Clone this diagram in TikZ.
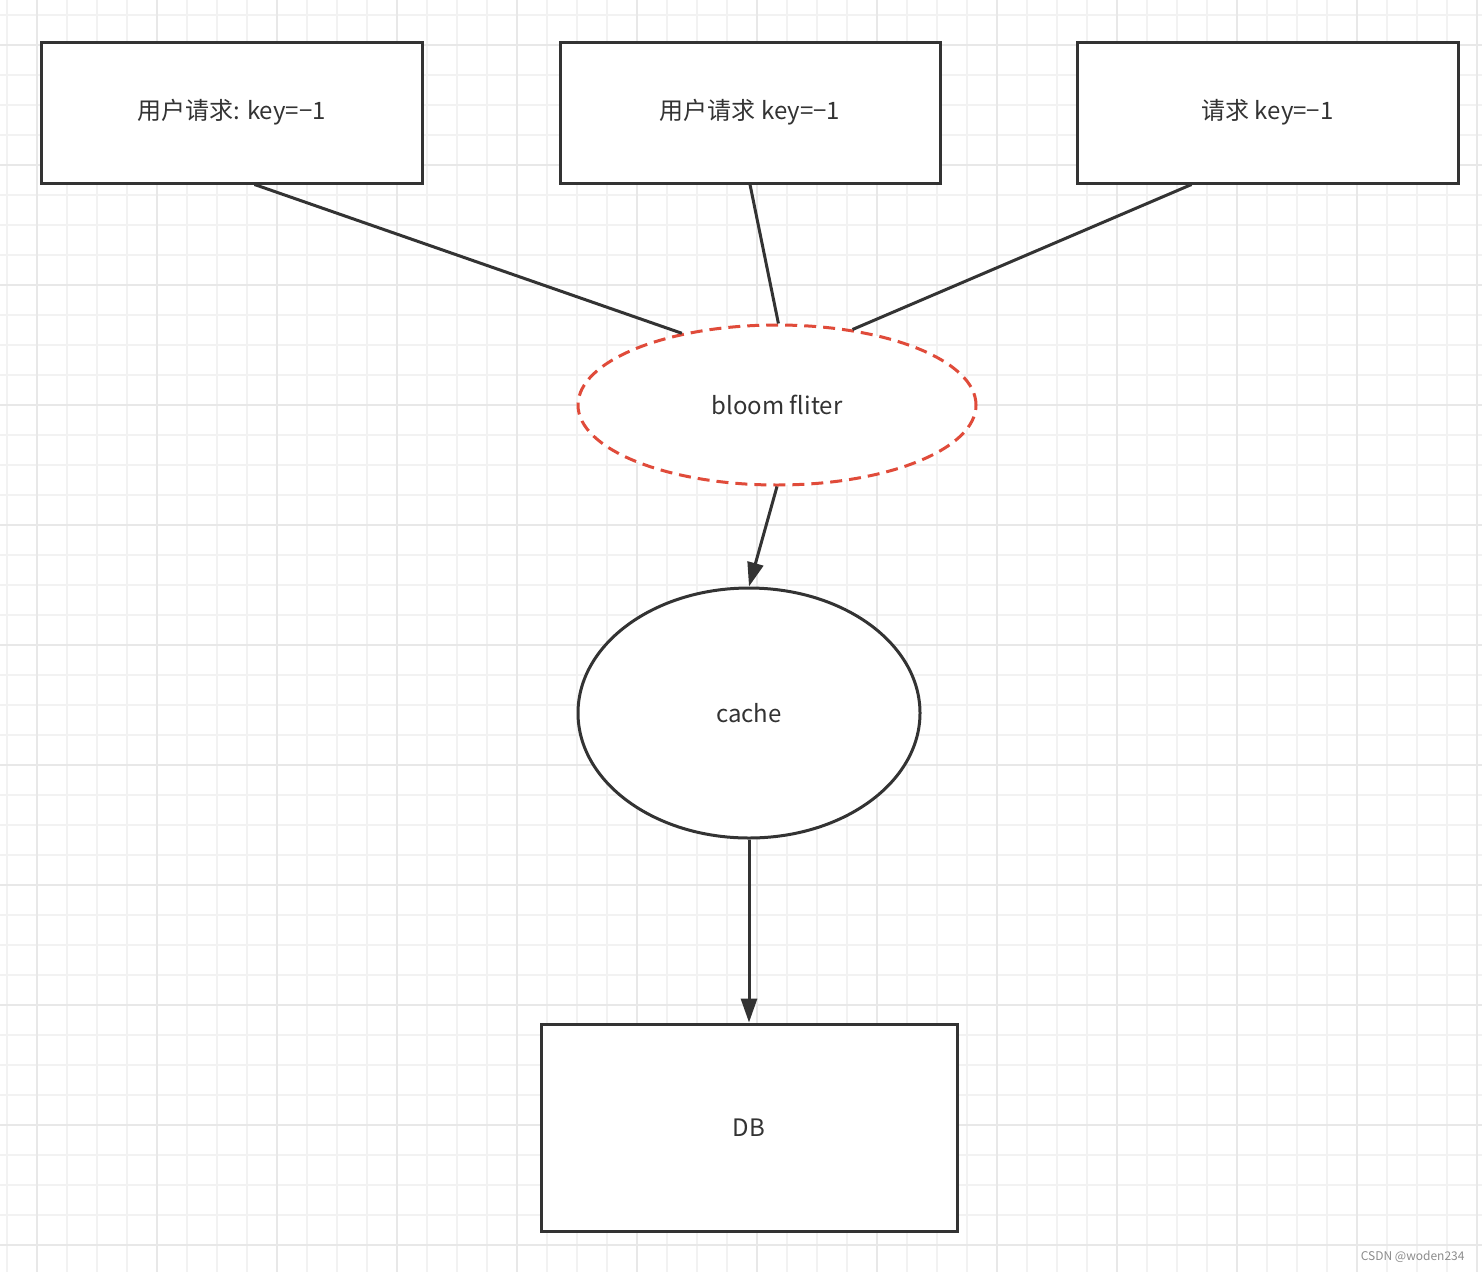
\documentclass[tikz,border=0pt]{standalone}
\usepackage{fontspec}
\setmainfont{Noto Sans CJK SC}
\usetikzlibrary{arrows.meta,shapes.geometric}
\definecolor{ink}{HTML}{333333}
\definecolor{bred}{HTML}{E04B3A}
\tikzset{x=1pt,y=-1pt,
 box/.style={draw=ink,line width=3pt,fill=white,minimum width=#1,inner sep=0pt},
 conn/.style={draw=ink,line width=3pt},
 arr/.style={conn,-{Triangle[length=24pt,width=16pt]}},
 lbl/.style={font=\fontsize{24}{28}\selectfont,text=ink}}
\begin{document}
\begin{tikzpicture}
\useasboundingbox (0,0) rectangle (1482,1272);
\fill[white] (0,0) rectangle (1482,1272);
\foreach \i in {7,37,...,1482} \draw[black!5,line width=1.5pt] (\i,0)--(\i,1272);
\foreach \i in {15,45,...,1272} \draw[black!5,line width=1.5pt] (0,\i)--(1482,\i);
\foreach \i in {37,157,...,1482} \draw[black!9,line width=2.5pt] (\i,0)--(\i,1272);
\foreach \i in {45,165,...,1272} \draw[black!9,line width=2.5pt] (0,\i)--(1482,\i);
\node[box=381pt,minimum height=141pt,lbl] (b1) at (231.5,112.5) {用户请求: key=−1};
\node[box=380pt,minimum height=141pt,lbl] (b2) at (750,112.5) {用户请求 key=−1};
\node[box=381pt,minimum height=141pt,lbl] (b3) at (1267.5,112.5) {请求 key=−1};
\node[draw=bred,dashed,dash pattern=on 12pt off 7pt,line width=3pt,ellipse,minimum width=398pt,minimum height=160pt,inner sep=0pt,fill=white,lbl] (bf) at (777,405) {bloom fliter};
\node[draw=ink,line width=3pt,ellipse,minimum width=342pt,minimum height=250pt,inner sep=0pt,fill=white,lbl] (c) at (749,713) {cache};
\node[box=416pt,minimum height=207pt,lbl] (db) at (749,1127.5) {DB};
\draw[conn] ([xshift=23pt]b1.south) -- (bf.143);
\draw[conn] (b2.south) -- (bf.89);
\draw[conn] ([xshift=-76pt]b3.south) -- (bf.45);
\draw[arr] (bf.south) -- (c.north);
\draw[arr] (c.south) -- (db.north);
\node[font=\fontsize{12}{14}\selectfont,text=black!45,anchor=east] (wm) at (1468,1257) {CSDN @woden234};
\end{tikzpicture}
\end{document}
